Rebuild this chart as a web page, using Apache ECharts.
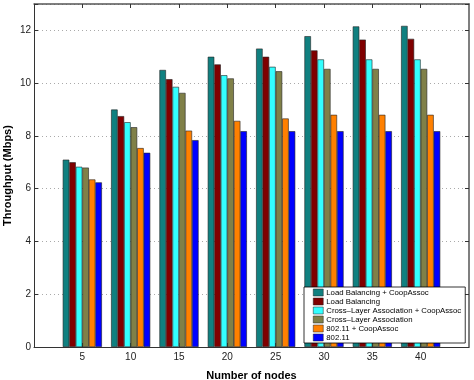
<!DOCTYPE html>
<html>
<head>
<meta charset="utf-8">
<script src="https://cdn.jsdelivr.net/npm/echarts@6/dist/echarts.min.js"></script>
<style>html,body{margin:0;padding:0;background:#fff}#c{width:474px;height:380px}</style>
</head>
<body>
<div id="c"></div>
<script>
// x categories: padded with empty slots at 0 and 45 (axis runs 0..45)
const categories = ['0','5','10','15','20','25','30','35','40','45'];
const seriesNames = [
  'Load Balancing + CoopAssoc',
  'Load Balancing',
  'Cross\u2013Layer Association + CoopAssoc',
  'Cross\u2013Layer Association',
  '802.11 + CoopAssoc',
  '802.11'
];
const lbCoop   = [null, 7.10, 9.00, 10.50, 11.00, 11.31, 11.78, 12.15, 12.17, null];
const lb       = [null, 7.00, 8.75, 10.15, 10.71, 11.00, 11.24, 11.65, 11.68, null];
const clCoop   = [null, 6.83, 8.52,  9.86, 10.30, 10.62, 10.90, 10.90, 10.90, null];
const cl       = [null, 6.80, 8.33,  9.63, 10.18, 10.45, 10.54, 10.54, 10.54, null];
const wifiCoop = [null, 6.35, 7.54,  8.20,  8.57,  8.66,  8.80,  8.80,  8.80, null];
const wifi     = [null, 6.24, 7.36,  7.84,  8.18,  8.18,  8.18,  8.18,  8.18, null];
const yTicks = [0, 2, 4, 6, 8, 10, 12];

const allData = [lbCoop, lb, clCoop, cl, wifiCoop, wifi];
const colors = ['#108080', '#800000', '#33ffff', '#808048', '#ff8000', '#0000ff'];
const font = 'Liberation Sans, Arial, Helvetica, sans-serif';

const chart = echarts.init(document.getElementById('c'));
const showTick = (i) => i > 0 && i < categories.length - 1;
const series = seriesNames.map((name, k) => ({
  name,
  type: 'bar',
  xAxisIndex: 0, yAxisIndex: 0,
  data: allData[k],
  barGap: '0%',
  barCategoryGap: '19%',
  itemStyle: { borderColor: '#222', borderWidth: 0.6 },
  z: 3
}));
// invisible helper series so the top/right frame axes are bound to the grid
series.push({
  type: 'line', xAxisIndex: 1, yAxisIndex: 1,
  data: categories.map(() => null), silent: true, showSymbol: false,
  lineStyle: { opacity: 0 }
});
chart.setOption({
  animation: false,
  backgroundColor: '#fff',
  color: colors,
  grid: { left: 34, right: 5, top: 4, bottom: 33, outerBoundsMode: 'none' },
  legend: {
    orient: 'vertical',
    left: 304, top: 287,
    itemWidth: 10, itemHeight: 7, itemGap: 0,
    padding: [1, 4, 1, 9],
    backgroundColor: '#fff',
    borderColor: '#000', borderWidth: 0.8,
    borderRadius: 0,
    icon: 'rect',
    textStyle: { fontFamily: font, fontSize: 7.8, color: '#000', lineHeight: 9, padding: [0,0,0,-2] },
    data: seriesNames.map(n => ({ name: n, itemStyle: { borderColor: '#222', borderWidth: 0.5 } }))
  },
  xAxis: [{
    type: 'category',
    data: categories,
    boundaryGap: false,
    name: 'Number of nodes',
    nameLocation: 'middle',
    nameGap: 23,
    nameTextStyle: { fontFamily: font, fontSize: 11, fontWeight: 'bold', color: '#000' },
    axisLine: { onZero: false, lineStyle: { color: '#333', width: 1 } },
    axisTick: { inside: true, length: 4, interval: (i) => showTick(i), lineStyle: { color: '#333' } },
    axisLabel: { interval: (i) => showTick(i), fontFamily: font, fontSize: 10, color: '#222', margin: 5 },
    splitLine: { show: false }
  }, {
    type: 'category',
    data: categories,
    boundaryGap: false,
    position: 'top',
    axisLine: { show: true, onZero: false, lineStyle: { color: '#555', width: 1.5 } },
    axisTick: { show: true, inside: true, length: 4, interval: (i) => showTick(i), lineStyle: { color: '#333' } },
    axisLabel: { show: false },
    splitLine: { show: false }
  }],
  yAxis: [{
    type: 'value',
    min: 0, max: 13, interval: 2,
    name: 'Throughput (Mbps)',
    nameLocation: 'middle',
    nameGap: 21,
    nameMoveOverlap: false,
    nameTextStyle: { fontFamily: font, fontSize: 11, fontWeight: 'bold', color: '#000' },
    axisLine: { show: true, onZero: false, lineStyle: { color: '#333', width: 1 } },
    axisTick: { show: true, inside: true, length: 4, lineStyle: { color: '#333' } },
    axisLabel: { fontFamily: font, fontSize: 10, color: '#222', margin: 3,
      formatter: (v) => yTicks.includes(v) ? String(v) : '' },
    splitLine: { show: false }
  }, {
    type: 'value',
    min: 0, max: 13, interval: 2,
    position: 'right',
    axisLine: { show: true, onZero: false, lineStyle: { color: '#555', width: 1.5 } },
    axisTick: { show: true, inside: true, length: 4, lineStyle: { color: '#333' } },
    axisLabel: { show: false },
    splitLine: { show: true, lineStyle: { color: '#aaa', type: [1, 3], width: 1 } }
  }],
  series
});
</script>
</body>
</html>
